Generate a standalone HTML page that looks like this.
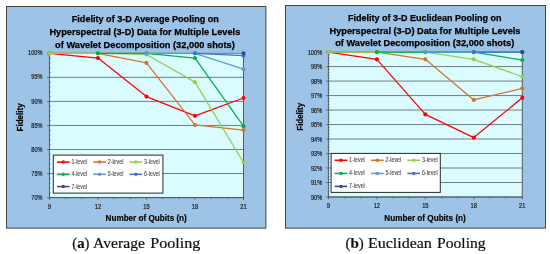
<!DOCTYPE html>
<html><head><meta charset="utf-8"><title>Fidelity charts</title>
<style>
html,body{margin:0;padding:0;background:#fff;}
svg{display:block;font-family:"Liberation Sans", sans-serif;}
</style></head><body>
<svg width="550" height="254" viewBox="0 0 550 254">
<rect width="550" height="254" fill="#ffffff"/>
<rect x="6.5" y="6.5" width="259.40" height="221.60" fill="#9dc3e6" stroke="#444444" stroke-width="1.0"/>
<rect x="49.45" y="53.3" width="194.05" height="144.30" fill="#dbfcff"/>
<line x1="46.85" y1="197.60" x2="243.5" y2="197.60" stroke="#6f7f80" stroke-width="1"/>
<text x="31.30" y="199.70" font-size="7.0" fill="#222" stroke="#222" stroke-width="0.22" textLength="11.2" lengthAdjust="spacingAndGlyphs">70%</text>
<line x1="46.85" y1="173.55" x2="243.5" y2="173.55" stroke="#6f7f80" stroke-width="1"/>
<text x="31.30" y="175.65" font-size="7.0" fill="#222" stroke="#222" stroke-width="0.22" textLength="11.2" lengthAdjust="spacingAndGlyphs">75%</text>
<line x1="46.85" y1="149.50" x2="243.5" y2="149.50" stroke="#6f7f80" stroke-width="1"/>
<text x="31.30" y="151.60" font-size="7.0" fill="#222" stroke="#222" stroke-width="0.22" textLength="11.2" lengthAdjust="spacingAndGlyphs">80%</text>
<line x1="46.85" y1="125.45" x2="243.5" y2="125.45" stroke="#6f7f80" stroke-width="1"/>
<text x="31.30" y="127.55" font-size="7.0" fill="#222" stroke="#222" stroke-width="0.22" textLength="11.2" lengthAdjust="spacingAndGlyphs">85%</text>
<line x1="46.85" y1="101.40" x2="243.5" y2="101.40" stroke="#6f7f80" stroke-width="1"/>
<text x="31.30" y="103.50" font-size="7.0" fill="#222" stroke="#222" stroke-width="0.22" textLength="11.2" lengthAdjust="spacingAndGlyphs">90%</text>
<line x1="46.85" y1="77.35" x2="243.5" y2="77.35" stroke="#6f7f80" stroke-width="1"/>
<text x="31.30" y="79.45" font-size="7.0" fill="#222" stroke="#222" stroke-width="0.22" textLength="11.2" lengthAdjust="spacingAndGlyphs">95%</text>
<line x1="46.85" y1="53.30" x2="243.5" y2="53.30" stroke="#6f7f80" stroke-width="1"/>
<text x="28.00" y="55.40" font-size="7.0" fill="#222" stroke="#222" stroke-width="0.22" textLength="14.5" lengthAdjust="spacingAndGlyphs">100%</text>
<line x1="49.45" y1="197.60" x2="51.05" y2="197.60" stroke="#485560" stroke-width="0.5"/>
<line x1="49.45" y1="192.79" x2="51.05" y2="192.79" stroke="#485560" stroke-width="0.5"/>
<line x1="49.45" y1="187.98" x2="51.05" y2="187.98" stroke="#485560" stroke-width="0.5"/>
<line x1="49.45" y1="183.17" x2="51.05" y2="183.17" stroke="#485560" stroke-width="0.5"/>
<line x1="49.45" y1="178.36" x2="51.05" y2="178.36" stroke="#485560" stroke-width="0.5"/>
<line x1="49.45" y1="173.55" x2="51.05" y2="173.55" stroke="#485560" stroke-width="0.5"/>
<line x1="49.45" y1="168.74" x2="51.05" y2="168.74" stroke="#485560" stroke-width="0.5"/>
<line x1="49.45" y1="163.93" x2="51.05" y2="163.93" stroke="#485560" stroke-width="0.5"/>
<line x1="49.45" y1="159.12" x2="51.05" y2="159.12" stroke="#485560" stroke-width="0.5"/>
<line x1="49.45" y1="154.31" x2="51.05" y2="154.31" stroke="#485560" stroke-width="0.5"/>
<line x1="49.45" y1="149.50" x2="51.05" y2="149.50" stroke="#485560" stroke-width="0.5"/>
<line x1="49.45" y1="144.69" x2="51.05" y2="144.69" stroke="#485560" stroke-width="0.5"/>
<line x1="49.45" y1="139.88" x2="51.05" y2="139.88" stroke="#485560" stroke-width="0.5"/>
<line x1="49.45" y1="135.07" x2="51.05" y2="135.07" stroke="#485560" stroke-width="0.5"/>
<line x1="49.45" y1="130.26" x2="51.05" y2="130.26" stroke="#485560" stroke-width="0.5"/>
<line x1="49.45" y1="125.45" x2="51.05" y2="125.45" stroke="#485560" stroke-width="0.5"/>
<line x1="49.45" y1="120.64" x2="51.05" y2="120.64" stroke="#485560" stroke-width="0.5"/>
<line x1="49.45" y1="115.83" x2="51.05" y2="115.83" stroke="#485560" stroke-width="0.5"/>
<line x1="49.45" y1="111.02" x2="51.05" y2="111.02" stroke="#485560" stroke-width="0.5"/>
<line x1="49.45" y1="106.21" x2="51.05" y2="106.21" stroke="#485560" stroke-width="0.5"/>
<line x1="49.45" y1="101.40" x2="51.05" y2="101.40" stroke="#485560" stroke-width="0.5"/>
<line x1="49.45" y1="96.59" x2="51.05" y2="96.59" stroke="#485560" stroke-width="0.5"/>
<line x1="49.45" y1="91.78" x2="51.05" y2="91.78" stroke="#485560" stroke-width="0.5"/>
<line x1="49.45" y1="86.97" x2="51.05" y2="86.97" stroke="#485560" stroke-width="0.5"/>
<line x1="49.45" y1="82.16" x2="51.05" y2="82.16" stroke="#485560" stroke-width="0.5"/>
<line x1="49.45" y1="77.35" x2="51.05" y2="77.35" stroke="#485560" stroke-width="0.5"/>
<line x1="49.45" y1="72.54" x2="51.05" y2="72.54" stroke="#485560" stroke-width="0.5"/>
<line x1="49.45" y1="67.73" x2="51.05" y2="67.73" stroke="#485560" stroke-width="0.5"/>
<line x1="49.45" y1="62.92" x2="51.05" y2="62.92" stroke="#485560" stroke-width="0.5"/>
<line x1="49.45" y1="58.11" x2="51.05" y2="58.11" stroke="#485560" stroke-width="0.5"/>
<line x1="49.45" y1="53.30" x2="51.05" y2="53.30" stroke="#485560" stroke-width="0.5"/>
<line x1="49.45" y1="53.3" x2="49.45" y2="199.80" stroke="#485560" stroke-width="0.95"/>
<line x1="243.5" y1="53.3" x2="243.5" y2="199.80" stroke="#485560" stroke-width="0.95"/>
<line x1="49.45" y1="197.6" x2="243.5" y2="197.6" stroke="#485560" stroke-width="1"/>
<text x="47.80" y="208.80" font-size="7.0" fill="#222" stroke="#222" stroke-width="0.22" textLength="3.3" lengthAdjust="spacingAndGlyphs">9</text>
<line x1="65.62" y1="197.6" x2="65.62" y2="199.20" stroke="#485560" stroke-width="0.6"/>
<line x1="81.79" y1="197.6" x2="81.79" y2="199.20" stroke="#485560" stroke-width="0.6"/>
<text x="94.76" y="208.80" font-size="7.0" fill="#222" stroke="#222" stroke-width="0.22" textLength="6.4" lengthAdjust="spacingAndGlyphs">12</text>
<line x1="97.96" y1="197.6" x2="97.96" y2="199.80" stroke="#485560" stroke-width="0.8"/>
<line x1="114.13" y1="197.6" x2="114.13" y2="199.20" stroke="#485560" stroke-width="0.6"/>
<line x1="130.30" y1="197.6" x2="130.30" y2="199.20" stroke="#485560" stroke-width="0.6"/>
<text x="143.28" y="208.80" font-size="7.0" fill="#222" stroke="#222" stroke-width="0.22" textLength="6.4" lengthAdjust="spacingAndGlyphs">15</text>
<line x1="146.48" y1="197.6" x2="146.48" y2="199.80" stroke="#485560" stroke-width="0.8"/>
<line x1="162.65" y1="197.6" x2="162.65" y2="199.20" stroke="#485560" stroke-width="0.6"/>
<line x1="178.82" y1="197.6" x2="178.82" y2="199.20" stroke="#485560" stroke-width="0.6"/>
<text x="191.79" y="208.80" font-size="7.0" fill="#222" stroke="#222" stroke-width="0.22" textLength="6.4" lengthAdjust="spacingAndGlyphs">18</text>
<line x1="194.99" y1="197.6" x2="194.99" y2="199.80" stroke="#485560" stroke-width="0.8"/>
<line x1="211.16" y1="197.6" x2="211.16" y2="199.20" stroke="#485560" stroke-width="0.6"/>
<line x1="227.33" y1="197.6" x2="227.33" y2="199.20" stroke="#485560" stroke-width="0.6"/>
<text x="240.30" y="208.80" font-size="7.0" fill="#222" stroke="#222" stroke-width="0.22" textLength="6.4" lengthAdjust="spacingAndGlyphs">21</text>
<polyline points="49.45,53.30 97.96,58.11 146.48,96.59 194.99,115.83 243.50,98.03" fill="none" stroke="#ff0000" stroke-width="1.25" stroke-linejoin="round"/>
<circle cx="49.45" cy="53.30" r="2.05" fill="#ff0000"/>
<circle cx="97.96" cy="58.11" r="2.05" fill="#ff0000"/>
<circle cx="146.48" cy="96.59" r="2.05" fill="#ff0000"/>
<circle cx="194.99" cy="115.83" r="2.05" fill="#ff0000"/>
<circle cx="243.50" cy="98.03" r="2.05" fill="#ff0000"/>
<polyline points="49.45,53.30 97.96,53.30 146.48,62.92 194.99,124.97 243.50,130.02" fill="none" stroke="#d5732d" stroke-width="1.25" stroke-linejoin="round"/>
<circle cx="49.45" cy="53.30" r="2.05" fill="#d5732d"/>
<circle cx="97.96" cy="53.30" r="2.05" fill="#d5732d"/>
<circle cx="146.48" cy="62.92" r="2.05" fill="#d5732d"/>
<circle cx="194.99" cy="124.97" r="2.05" fill="#d5732d"/>
<circle cx="243.50" cy="130.02" r="2.05" fill="#d5732d"/>
<polyline points="49.45,53.30 97.96,53.30 146.48,54.50 194.99,82.16 243.50,162.49" fill="none" stroke="#92d050" stroke-width="1.25" stroke-linejoin="round"/>
<circle cx="49.45" cy="53.30" r="2.05" fill="#92d050"/>
<circle cx="97.96" cy="53.30" r="2.05" fill="#92d050"/>
<circle cx="146.48" cy="54.50" r="2.05" fill="#92d050"/>
<circle cx="194.99" cy="82.16" r="2.05" fill="#92d050"/>
<circle cx="243.50" cy="162.49" r="2.05" fill="#92d050"/>
<polyline points="97.96,53.30 146.48,53.30 194.99,58.11 243.50,126.17" fill="none" stroke="#00b050" stroke-width="1.25" stroke-linejoin="round"/>
<circle cx="97.96" cy="53.30" r="2.05" fill="#00b050"/>
<circle cx="146.48" cy="53.30" r="2.05" fill="#00b050"/>
<circle cx="194.99" cy="58.11" r="2.05" fill="#00b050"/>
<circle cx="243.50" cy="126.17" r="2.05" fill="#00b050"/>
<polyline points="146.48,53.30 194.99,53.30 243.50,69.17" fill="none" stroke="#5b9bd5" stroke-width="1.25" stroke-linejoin="round"/>
<circle cx="146.48" cy="53.30" r="2.05" fill="#5b9bd5"/>
<circle cx="194.99" cy="53.30" r="2.05" fill="#5b9bd5"/>
<circle cx="243.50" cy="69.17" r="2.05" fill="#5b9bd5"/>
<polyline points="194.99,53.30 243.50,55.70" fill="none" stroke="#4472c4" stroke-width="1.25" stroke-linejoin="round"/>
<circle cx="194.99" cy="53.30" r="2.05" fill="#4472c4"/>
<circle cx="243.50" cy="55.70" r="2.05" fill="#4472c4"/>
<polyline points="243.50,53.30" fill="none" stroke="#2b4c8c" stroke-width="1.25" stroke-linejoin="round"/>
<circle cx="243.50" cy="53.30" r="2.05" fill="#2b4c8c"/>
<rect x="53.3" y="155.1" width="109.60" height="38.00" fill="#ffffff" stroke="#2a2a2a" stroke-width="1"/>
<line x1="56.90" y1="162.10" x2="69.60" y2="162.10" stroke="#ff0000" stroke-width="1.55"/>
<circle cx="63.25" cy="162.10" r="1.75" fill="#ff0000"/>
<text x="71.40" y="164.15" font-size="6.3" fill="#505050" stroke="#505050" stroke-width="0.12" textLength="15.7" lengthAdjust="spacingAndGlyphs">1-level</text>
<line x1="93.20" y1="162.10" x2="105.90" y2="162.10" stroke="#d5732d" stroke-width="1.55"/>
<circle cx="99.55" cy="162.10" r="1.75" fill="#d5732d"/>
<text x="107.70" y="164.15" font-size="6.3" fill="#505050" stroke="#505050" stroke-width="0.12" textLength="15.7" lengthAdjust="spacingAndGlyphs">2-level</text>
<line x1="129.50" y1="162.10" x2="142.20" y2="162.10" stroke="#92d050" stroke-width="1.55"/>
<circle cx="135.85" cy="162.10" r="1.75" fill="#92d050"/>
<text x="144.00" y="164.15" font-size="6.3" fill="#505050" stroke="#505050" stroke-width="0.12" textLength="15.7" lengthAdjust="spacingAndGlyphs">3-level</text>
<line x1="56.90" y1="174.30" x2="69.60" y2="174.30" stroke="#00b050" stroke-width="1.55"/>
<circle cx="63.25" cy="174.30" r="1.75" fill="#00b050"/>
<text x="71.40" y="176.35" font-size="6.3" fill="#505050" stroke="#505050" stroke-width="0.12" textLength="15.7" lengthAdjust="spacingAndGlyphs">4-level</text>
<line x1="93.20" y1="174.30" x2="105.90" y2="174.30" stroke="#5b9bd5" stroke-width="1.55"/>
<circle cx="99.55" cy="174.30" r="1.75" fill="#5b9bd5"/>
<text x="107.70" y="176.35" font-size="6.3" fill="#505050" stroke="#505050" stroke-width="0.12" textLength="15.7" lengthAdjust="spacingAndGlyphs">5-level</text>
<line x1="129.50" y1="174.30" x2="142.20" y2="174.30" stroke="#4472c4" stroke-width="1.55"/>
<circle cx="135.85" cy="174.30" r="1.75" fill="#4472c4"/>
<text x="144.00" y="176.35" font-size="6.3" fill="#505050" stroke="#505050" stroke-width="0.12" textLength="15.7" lengthAdjust="spacingAndGlyphs">6-level</text>
<line x1="56.90" y1="186.60" x2="69.60" y2="186.60" stroke="#2b4c8c" stroke-width="1.55"/>
<circle cx="63.25" cy="186.60" r="1.75" fill="#2b4c8c"/>
<text x="71.40" y="188.65" font-size="6.3" fill="#505050" stroke="#505050" stroke-width="0.12" textLength="15.7" lengthAdjust="spacingAndGlyphs">7-level</text>
<text x="71.8" y="21.9" font-size="9.2" font-weight="bold" fill="#000" stroke="#000" stroke-width="0.25" textLength="147.10" lengthAdjust="spacingAndGlyphs">Fidelity of 3-D Average Pooling on</text>
<text x="49.4" y="34.8" font-size="9.2" font-weight="bold" fill="#000" stroke="#000" stroke-width="0.25" textLength="190.90" lengthAdjust="spacingAndGlyphs">Hyperspectral (3-D) Data for Multiple Levels</text>
<text x="55.1" y="47.5" font-size="9.2" font-weight="bold" fill="#000" stroke="#000" stroke-width="0.25" textLength="179.70" lengthAdjust="spacingAndGlyphs">of Wavelet Decomposition (32,000 shots)</text>
<text transform="translate(23.1,131.4) rotate(-90)" font-size="8.7" font-weight="bold" fill="#000" stroke="#000" stroke-width="0.2" textLength="28.00" lengthAdjust="spacingAndGlyphs">Fidelity</text>
<text x="105.6" y="221.05" font-size="8.6" font-weight="bold" fill="#000" stroke="#000" stroke-width="0.15" textLength="81.20" lengthAdjust="spacingAndGlyphs">Number of Qubits (n)</text>
<text y="247.6" font-family='"Liberation Serif", serif' font-size="14.6" fill="#111" stroke="#111" stroke-width="0.2"><tspan x="72.3" textLength="17.20" lengthAdjust="spacingAndGlyphs">(<tspan font-weight="bold">a</tspan>)</tspan> <tspan x="93.1" textLength="51.80" lengthAdjust="spacingAndGlyphs">Average</tspan> <tspan x="150.3" textLength="50.10" lengthAdjust="spacingAndGlyphs">Pooling</tspan></text>
<rect x="285.5" y="5.5" width="260.00" height="222.60" fill="#9dc3e6" stroke="#444444" stroke-width="1.0"/>
<rect x="328.4" y="52.1" width="193.90" height="144.90" fill="#dbfcff"/>
<line x1="325.80" y1="197.00" x2="522.3" y2="197.00" stroke="#6f7f80" stroke-width="1"/>
<text x="311.00" y="199.50" font-size="7.0" fill="#222" stroke="#222" stroke-width="0.22" textLength="11.2" lengthAdjust="spacingAndGlyphs">90%</text>
<line x1="325.80" y1="182.51" x2="522.3" y2="182.51" stroke="#6f7f80" stroke-width="1"/>
<text x="311.00" y="185.01" font-size="7.0" fill="#222" stroke="#222" stroke-width="0.22" textLength="11.2" lengthAdjust="spacingAndGlyphs">91%</text>
<line x1="325.80" y1="168.02" x2="522.3" y2="168.02" stroke="#6f7f80" stroke-width="1"/>
<text x="311.00" y="170.52" font-size="7.0" fill="#222" stroke="#222" stroke-width="0.22" textLength="11.2" lengthAdjust="spacingAndGlyphs">92%</text>
<line x1="325.80" y1="153.53" x2="522.3" y2="153.53" stroke="#6f7f80" stroke-width="1"/>
<text x="311.00" y="156.03" font-size="7.0" fill="#222" stroke="#222" stroke-width="0.22" textLength="11.2" lengthAdjust="spacingAndGlyphs">93%</text>
<line x1="325.80" y1="139.04" x2="522.3" y2="139.04" stroke="#6f7f80" stroke-width="1"/>
<text x="311.00" y="141.54" font-size="7.0" fill="#222" stroke="#222" stroke-width="0.22" textLength="11.2" lengthAdjust="spacingAndGlyphs">94%</text>
<line x1="325.80" y1="124.55" x2="522.3" y2="124.55" stroke="#6f7f80" stroke-width="1"/>
<text x="311.00" y="127.05" font-size="7.0" fill="#222" stroke="#222" stroke-width="0.22" textLength="11.2" lengthAdjust="spacingAndGlyphs">95%</text>
<line x1="325.80" y1="110.06" x2="522.3" y2="110.06" stroke="#6f7f80" stroke-width="1"/>
<text x="311.00" y="112.56" font-size="7.0" fill="#222" stroke="#222" stroke-width="0.22" textLength="11.2" lengthAdjust="spacingAndGlyphs">96%</text>
<line x1="325.80" y1="95.57" x2="522.3" y2="95.57" stroke="#6f7f80" stroke-width="1"/>
<text x="311.00" y="98.07" font-size="7.0" fill="#222" stroke="#222" stroke-width="0.22" textLength="11.2" lengthAdjust="spacingAndGlyphs">97%</text>
<line x1="325.80" y1="81.08" x2="522.3" y2="81.08" stroke="#6f7f80" stroke-width="1"/>
<text x="311.00" y="83.58" font-size="7.0" fill="#222" stroke="#222" stroke-width="0.22" textLength="11.2" lengthAdjust="spacingAndGlyphs">98%</text>
<line x1="325.80" y1="66.59" x2="522.3" y2="66.59" stroke="#6f7f80" stroke-width="1"/>
<text x="311.00" y="69.09" font-size="7.0" fill="#222" stroke="#222" stroke-width="0.22" textLength="11.2" lengthAdjust="spacingAndGlyphs">99%</text>
<line x1="325.80" y1="52.10" x2="522.3" y2="52.10" stroke="#6f7f80" stroke-width="1"/>
<text x="307.70" y="54.60" font-size="7.0" fill="#222" stroke="#222" stroke-width="0.22" textLength="14.5" lengthAdjust="spacingAndGlyphs">100%</text>
<line x1="328.4" y1="197.00" x2="330.00" y2="197.00" stroke="#485560" stroke-width="0.5"/>
<line x1="328.4" y1="194.10" x2="330.00" y2="194.10" stroke="#485560" stroke-width="0.5"/>
<line x1="328.4" y1="191.20" x2="330.00" y2="191.20" stroke="#485560" stroke-width="0.5"/>
<line x1="328.4" y1="188.31" x2="330.00" y2="188.31" stroke="#485560" stroke-width="0.5"/>
<line x1="328.4" y1="185.41" x2="330.00" y2="185.41" stroke="#485560" stroke-width="0.5"/>
<line x1="328.4" y1="182.51" x2="330.00" y2="182.51" stroke="#485560" stroke-width="0.5"/>
<line x1="328.4" y1="179.61" x2="330.00" y2="179.61" stroke="#485560" stroke-width="0.5"/>
<line x1="328.4" y1="176.71" x2="330.00" y2="176.71" stroke="#485560" stroke-width="0.5"/>
<line x1="328.4" y1="173.82" x2="330.00" y2="173.82" stroke="#485560" stroke-width="0.5"/>
<line x1="328.4" y1="170.92" x2="330.00" y2="170.92" stroke="#485560" stroke-width="0.5"/>
<line x1="328.4" y1="168.02" x2="330.00" y2="168.02" stroke="#485560" stroke-width="0.5"/>
<line x1="328.4" y1="165.12" x2="330.00" y2="165.12" stroke="#485560" stroke-width="0.5"/>
<line x1="328.4" y1="162.22" x2="330.00" y2="162.22" stroke="#485560" stroke-width="0.5"/>
<line x1="328.4" y1="159.33" x2="330.00" y2="159.33" stroke="#485560" stroke-width="0.5"/>
<line x1="328.4" y1="156.43" x2="330.00" y2="156.43" stroke="#485560" stroke-width="0.5"/>
<line x1="328.4" y1="153.53" x2="330.00" y2="153.53" stroke="#485560" stroke-width="0.5"/>
<line x1="328.4" y1="150.63" x2="330.00" y2="150.63" stroke="#485560" stroke-width="0.5"/>
<line x1="328.4" y1="147.73" x2="330.00" y2="147.73" stroke="#485560" stroke-width="0.5"/>
<line x1="328.4" y1="144.84" x2="330.00" y2="144.84" stroke="#485560" stroke-width="0.5"/>
<line x1="328.4" y1="141.94" x2="330.00" y2="141.94" stroke="#485560" stroke-width="0.5"/>
<line x1="328.4" y1="139.04" x2="330.00" y2="139.04" stroke="#485560" stroke-width="0.5"/>
<line x1="328.4" y1="136.14" x2="330.00" y2="136.14" stroke="#485560" stroke-width="0.5"/>
<line x1="328.4" y1="133.24" x2="330.00" y2="133.24" stroke="#485560" stroke-width="0.5"/>
<line x1="328.4" y1="130.35" x2="330.00" y2="130.35" stroke="#485560" stroke-width="0.5"/>
<line x1="328.4" y1="127.45" x2="330.00" y2="127.45" stroke="#485560" stroke-width="0.5"/>
<line x1="328.4" y1="124.55" x2="330.00" y2="124.55" stroke="#485560" stroke-width="0.5"/>
<line x1="328.4" y1="121.65" x2="330.00" y2="121.65" stroke="#485560" stroke-width="0.5"/>
<line x1="328.4" y1="118.75" x2="330.00" y2="118.75" stroke="#485560" stroke-width="0.5"/>
<line x1="328.4" y1="115.86" x2="330.00" y2="115.86" stroke="#485560" stroke-width="0.5"/>
<line x1="328.4" y1="112.96" x2="330.00" y2="112.96" stroke="#485560" stroke-width="0.5"/>
<line x1="328.4" y1="110.06" x2="330.00" y2="110.06" stroke="#485560" stroke-width="0.5"/>
<line x1="328.4" y1="107.16" x2="330.00" y2="107.16" stroke="#485560" stroke-width="0.5"/>
<line x1="328.4" y1="104.26" x2="330.00" y2="104.26" stroke="#485560" stroke-width="0.5"/>
<line x1="328.4" y1="101.37" x2="330.00" y2="101.37" stroke="#485560" stroke-width="0.5"/>
<line x1="328.4" y1="98.47" x2="330.00" y2="98.47" stroke="#485560" stroke-width="0.5"/>
<line x1="328.4" y1="95.57" x2="330.00" y2="95.57" stroke="#485560" stroke-width="0.5"/>
<line x1="328.4" y1="92.67" x2="330.00" y2="92.67" stroke="#485560" stroke-width="0.5"/>
<line x1="328.4" y1="89.77" x2="330.00" y2="89.77" stroke="#485560" stroke-width="0.5"/>
<line x1="328.4" y1="86.88" x2="330.00" y2="86.88" stroke="#485560" stroke-width="0.5"/>
<line x1="328.4" y1="83.98" x2="330.00" y2="83.98" stroke="#485560" stroke-width="0.5"/>
<line x1="328.4" y1="81.08" x2="330.00" y2="81.08" stroke="#485560" stroke-width="0.5"/>
<line x1="328.4" y1="78.18" x2="330.00" y2="78.18" stroke="#485560" stroke-width="0.5"/>
<line x1="328.4" y1="75.28" x2="330.00" y2="75.28" stroke="#485560" stroke-width="0.5"/>
<line x1="328.4" y1="72.39" x2="330.00" y2="72.39" stroke="#485560" stroke-width="0.5"/>
<line x1="328.4" y1="69.49" x2="330.00" y2="69.49" stroke="#485560" stroke-width="0.5"/>
<line x1="328.4" y1="66.59" x2="330.00" y2="66.59" stroke="#485560" stroke-width="0.5"/>
<line x1="328.4" y1="63.69" x2="330.00" y2="63.69" stroke="#485560" stroke-width="0.5"/>
<line x1="328.4" y1="60.79" x2="330.00" y2="60.79" stroke="#485560" stroke-width="0.5"/>
<line x1="328.4" y1="57.90" x2="330.00" y2="57.90" stroke="#485560" stroke-width="0.5"/>
<line x1="328.4" y1="55.00" x2="330.00" y2="55.00" stroke="#485560" stroke-width="0.5"/>
<line x1="328.4" y1="52.10" x2="330.00" y2="52.10" stroke="#485560" stroke-width="0.5"/>
<line x1="328.4" y1="52.1" x2="328.4" y2="199.20" stroke="#485560" stroke-width="0.95"/>
<line x1="522.3" y1="52.1" x2="522.3" y2="199.20" stroke="#485560" stroke-width="0.95"/>
<line x1="328.4" y1="197.0" x2="522.3" y2="197.0" stroke="#485560" stroke-width="1"/>
<text x="326.75" y="208.20" font-size="7.0" fill="#222" stroke="#222" stroke-width="0.22" textLength="3.3" lengthAdjust="spacingAndGlyphs">9</text>
<line x1="344.56" y1="197.0" x2="344.56" y2="198.60" stroke="#485560" stroke-width="0.6"/>
<line x1="360.72" y1="197.0" x2="360.72" y2="198.60" stroke="#485560" stroke-width="0.6"/>
<text x="373.68" y="208.20" font-size="7.0" fill="#222" stroke="#222" stroke-width="0.22" textLength="6.4" lengthAdjust="spacingAndGlyphs">12</text>
<line x1="376.88" y1="197.0" x2="376.88" y2="199.20" stroke="#485560" stroke-width="0.8"/>
<line x1="393.03" y1="197.0" x2="393.03" y2="198.60" stroke="#485560" stroke-width="0.6"/>
<line x1="409.19" y1="197.0" x2="409.19" y2="198.60" stroke="#485560" stroke-width="0.6"/>
<text x="422.15" y="208.20" font-size="7.0" fill="#222" stroke="#222" stroke-width="0.22" textLength="6.4" lengthAdjust="spacingAndGlyphs">15</text>
<line x1="425.35" y1="197.0" x2="425.35" y2="199.20" stroke="#485560" stroke-width="0.8"/>
<line x1="441.51" y1="197.0" x2="441.51" y2="198.60" stroke="#485560" stroke-width="0.6"/>
<line x1="457.67" y1="197.0" x2="457.67" y2="198.60" stroke="#485560" stroke-width="0.6"/>
<text x="470.62" y="208.20" font-size="7.0" fill="#222" stroke="#222" stroke-width="0.22" textLength="6.4" lengthAdjust="spacingAndGlyphs">18</text>
<line x1="473.82" y1="197.0" x2="473.82" y2="199.20" stroke="#485560" stroke-width="0.8"/>
<line x1="489.98" y1="197.0" x2="489.98" y2="198.60" stroke="#485560" stroke-width="0.6"/>
<line x1="506.14" y1="197.0" x2="506.14" y2="198.60" stroke="#485560" stroke-width="0.6"/>
<text x="519.10" y="208.20" font-size="7.0" fill="#222" stroke="#222" stroke-width="0.22" textLength="6.4" lengthAdjust="spacingAndGlyphs">21</text>
<polyline points="328.40,52.10 376.88,59.34 425.35,114.41 473.82,137.59 522.30,97.74" fill="none" stroke="#ff0000" stroke-width="1.25" stroke-linejoin="round"/>
<circle cx="328.40" cy="52.10" r="2.05" fill="#ff0000"/>
<circle cx="376.88" cy="59.34" r="2.05" fill="#ff0000"/>
<circle cx="425.35" cy="114.41" r="2.05" fill="#ff0000"/>
<circle cx="473.82" cy="137.59" r="2.05" fill="#ff0000"/>
<circle cx="522.30" cy="97.74" r="2.05" fill="#ff0000"/>
<polyline points="328.40,52.10 376.88,52.10 425.35,59.34 473.82,99.92 522.30,88.33" fill="none" stroke="#d5732d" stroke-width="1.25" stroke-linejoin="round"/>
<circle cx="328.40" cy="52.10" r="2.05" fill="#d5732d"/>
<circle cx="376.88" cy="52.10" r="2.05" fill="#d5732d"/>
<circle cx="425.35" cy="59.34" r="2.05" fill="#d5732d"/>
<circle cx="473.82" cy="99.92" r="2.05" fill="#d5732d"/>
<circle cx="522.30" cy="88.33" r="2.05" fill="#d5732d"/>
<polyline points="328.40,52.10 376.88,52.10 425.35,52.10 473.82,59.34 522.30,76.73" fill="none" stroke="#92d050" stroke-width="1.25" stroke-linejoin="round"/>
<circle cx="328.40" cy="52.10" r="2.05" fill="#92d050"/>
<circle cx="376.88" cy="52.10" r="2.05" fill="#92d050"/>
<circle cx="425.35" cy="52.10" r="2.05" fill="#92d050"/>
<circle cx="473.82" cy="59.34" r="2.05" fill="#92d050"/>
<circle cx="522.30" cy="76.73" r="2.05" fill="#92d050"/>
<polyline points="376.88,52.10 425.35,52.10 473.82,52.10 522.30,60.07" fill="none" stroke="#00b050" stroke-width="1.25" stroke-linejoin="round"/>
<circle cx="376.88" cy="52.10" r="2.05" fill="#00b050"/>
<circle cx="425.35" cy="52.10" r="2.05" fill="#00b050"/>
<circle cx="473.82" cy="52.10" r="2.05" fill="#00b050"/>
<circle cx="522.30" cy="60.07" r="2.05" fill="#00b050"/>
<polyline points="425.35,52.10 473.82,52.10 522.30,52.10" fill="none" stroke="#5b9bd5" stroke-width="1.25" stroke-linejoin="round"/>
<circle cx="425.35" cy="52.10" r="2.05" fill="#5b9bd5"/>
<circle cx="473.82" cy="52.10" r="2.05" fill="#5b9bd5"/>
<circle cx="522.30" cy="52.10" r="2.05" fill="#5b9bd5"/>
<polyline points="473.82,52.10 522.30,52.10" fill="none" stroke="#4472c4" stroke-width="1.25" stroke-linejoin="round"/>
<circle cx="473.82" cy="52.10" r="2.05" fill="#4472c4"/>
<circle cx="522.30" cy="52.10" r="2.05" fill="#4472c4"/>
<polyline points="522.30,52.10" fill="none" stroke="#2b4c8c" stroke-width="1.25" stroke-linejoin="round"/>
<circle cx="522.30" cy="52.10" r="2.05" fill="#2b4c8c"/>
<rect x="331.1" y="153.4" width="109.20" height="39.00" fill="#ffffff" stroke="#2a2a2a" stroke-width="1"/>
<line x1="334.60" y1="160.30" x2="347.30" y2="160.30" stroke="#ff0000" stroke-width="1.55"/>
<circle cx="340.95" cy="160.30" r="1.75" fill="#ff0000"/>
<text x="349.10" y="162.35" font-size="6.3" fill="#505050" stroke="#505050" stroke-width="0.12" textLength="15.7" lengthAdjust="spacingAndGlyphs">1-level</text>
<line x1="371.00" y1="160.30" x2="383.70" y2="160.30" stroke="#d5732d" stroke-width="1.55"/>
<circle cx="377.35" cy="160.30" r="1.75" fill="#d5732d"/>
<text x="385.50" y="162.35" font-size="6.3" fill="#505050" stroke="#505050" stroke-width="0.12" textLength="15.7" lengthAdjust="spacingAndGlyphs">2-level</text>
<line x1="407.40" y1="160.30" x2="420.10" y2="160.30" stroke="#92d050" stroke-width="1.55"/>
<circle cx="413.75" cy="160.30" r="1.75" fill="#92d050"/>
<text x="421.90" y="162.35" font-size="6.3" fill="#505050" stroke="#505050" stroke-width="0.12" textLength="15.7" lengthAdjust="spacingAndGlyphs">3-level</text>
<line x1="334.60" y1="173.40" x2="347.30" y2="173.40" stroke="#00b050" stroke-width="1.55"/>
<circle cx="340.95" cy="173.40" r="1.75" fill="#00b050"/>
<text x="349.10" y="175.45" font-size="6.3" fill="#505050" stroke="#505050" stroke-width="0.12" textLength="15.7" lengthAdjust="spacingAndGlyphs">4-level</text>
<line x1="371.00" y1="173.40" x2="383.70" y2="173.40" stroke="#5b9bd5" stroke-width="1.55"/>
<circle cx="377.35" cy="173.40" r="1.75" fill="#5b9bd5"/>
<text x="385.50" y="175.45" font-size="6.3" fill="#505050" stroke="#505050" stroke-width="0.12" textLength="15.7" lengthAdjust="spacingAndGlyphs">5-level</text>
<line x1="407.40" y1="173.40" x2="420.10" y2="173.40" stroke="#4472c4" stroke-width="1.55"/>
<circle cx="413.75" cy="173.40" r="1.75" fill="#4472c4"/>
<text x="421.90" y="175.45" font-size="6.3" fill="#505050" stroke="#505050" stroke-width="0.12" textLength="15.7" lengthAdjust="spacingAndGlyphs">6-level</text>
<line x1="334.60" y1="186.40" x2="347.30" y2="186.40" stroke="#2b4c8c" stroke-width="1.55"/>
<circle cx="340.95" cy="186.40" r="1.75" fill="#2b4c8c"/>
<text x="349.10" y="188.45" font-size="6.3" fill="#505050" stroke="#505050" stroke-width="0.12" textLength="15.7" lengthAdjust="spacingAndGlyphs">7-level</text>
<text x="348.1" y="20.9" font-size="9.2" font-weight="bold" fill="#000" stroke="#000" stroke-width="0.25" textLength="153.50" lengthAdjust="spacingAndGlyphs">Fidelity of 3-D Euclidean Pooling on</text>
<text x="329.5" y="33.6" font-size="9.2" font-weight="bold" fill="#000" stroke="#000" stroke-width="0.25" textLength="191.00" lengthAdjust="spacingAndGlyphs">Hyperspectral (3-D) Data for Multiple Levels</text>
<text x="335.2" y="46.4" font-size="9.2" font-weight="bold" fill="#000" stroke="#000" stroke-width="0.25" textLength="179.10" lengthAdjust="spacingAndGlyphs">of Wavelet Decomposition (32,000 shots)</text>
<text transform="translate(303.0,130.7) rotate(-90)" font-size="8.7" font-weight="bold" fill="#000" stroke="#000" stroke-width="0.2" textLength="27.80" lengthAdjust="spacingAndGlyphs">Fidelity</text>
<text x="384.3" y="220.8" font-size="8.6" font-weight="bold" fill="#000" stroke="#000" stroke-width="0.15" textLength="81.50" lengthAdjust="spacingAndGlyphs">Number of Qubits (n)</text>
<text y="247.6" font-family='"Liberation Serif", serif' font-size="14.6" fill="#111" stroke="#111" stroke-width="0.2"><tspan x="345.4" textLength="18.40" lengthAdjust="spacingAndGlyphs">(<tspan font-weight="bold">b</tspan>)</tspan> <tspan x="367.9" textLength="64.00" lengthAdjust="spacingAndGlyphs">Euclidean</tspan> <tspan x="437.0" textLength="48.60" lengthAdjust="spacingAndGlyphs">Pooling</tspan></text>
</svg>
</body></html>
